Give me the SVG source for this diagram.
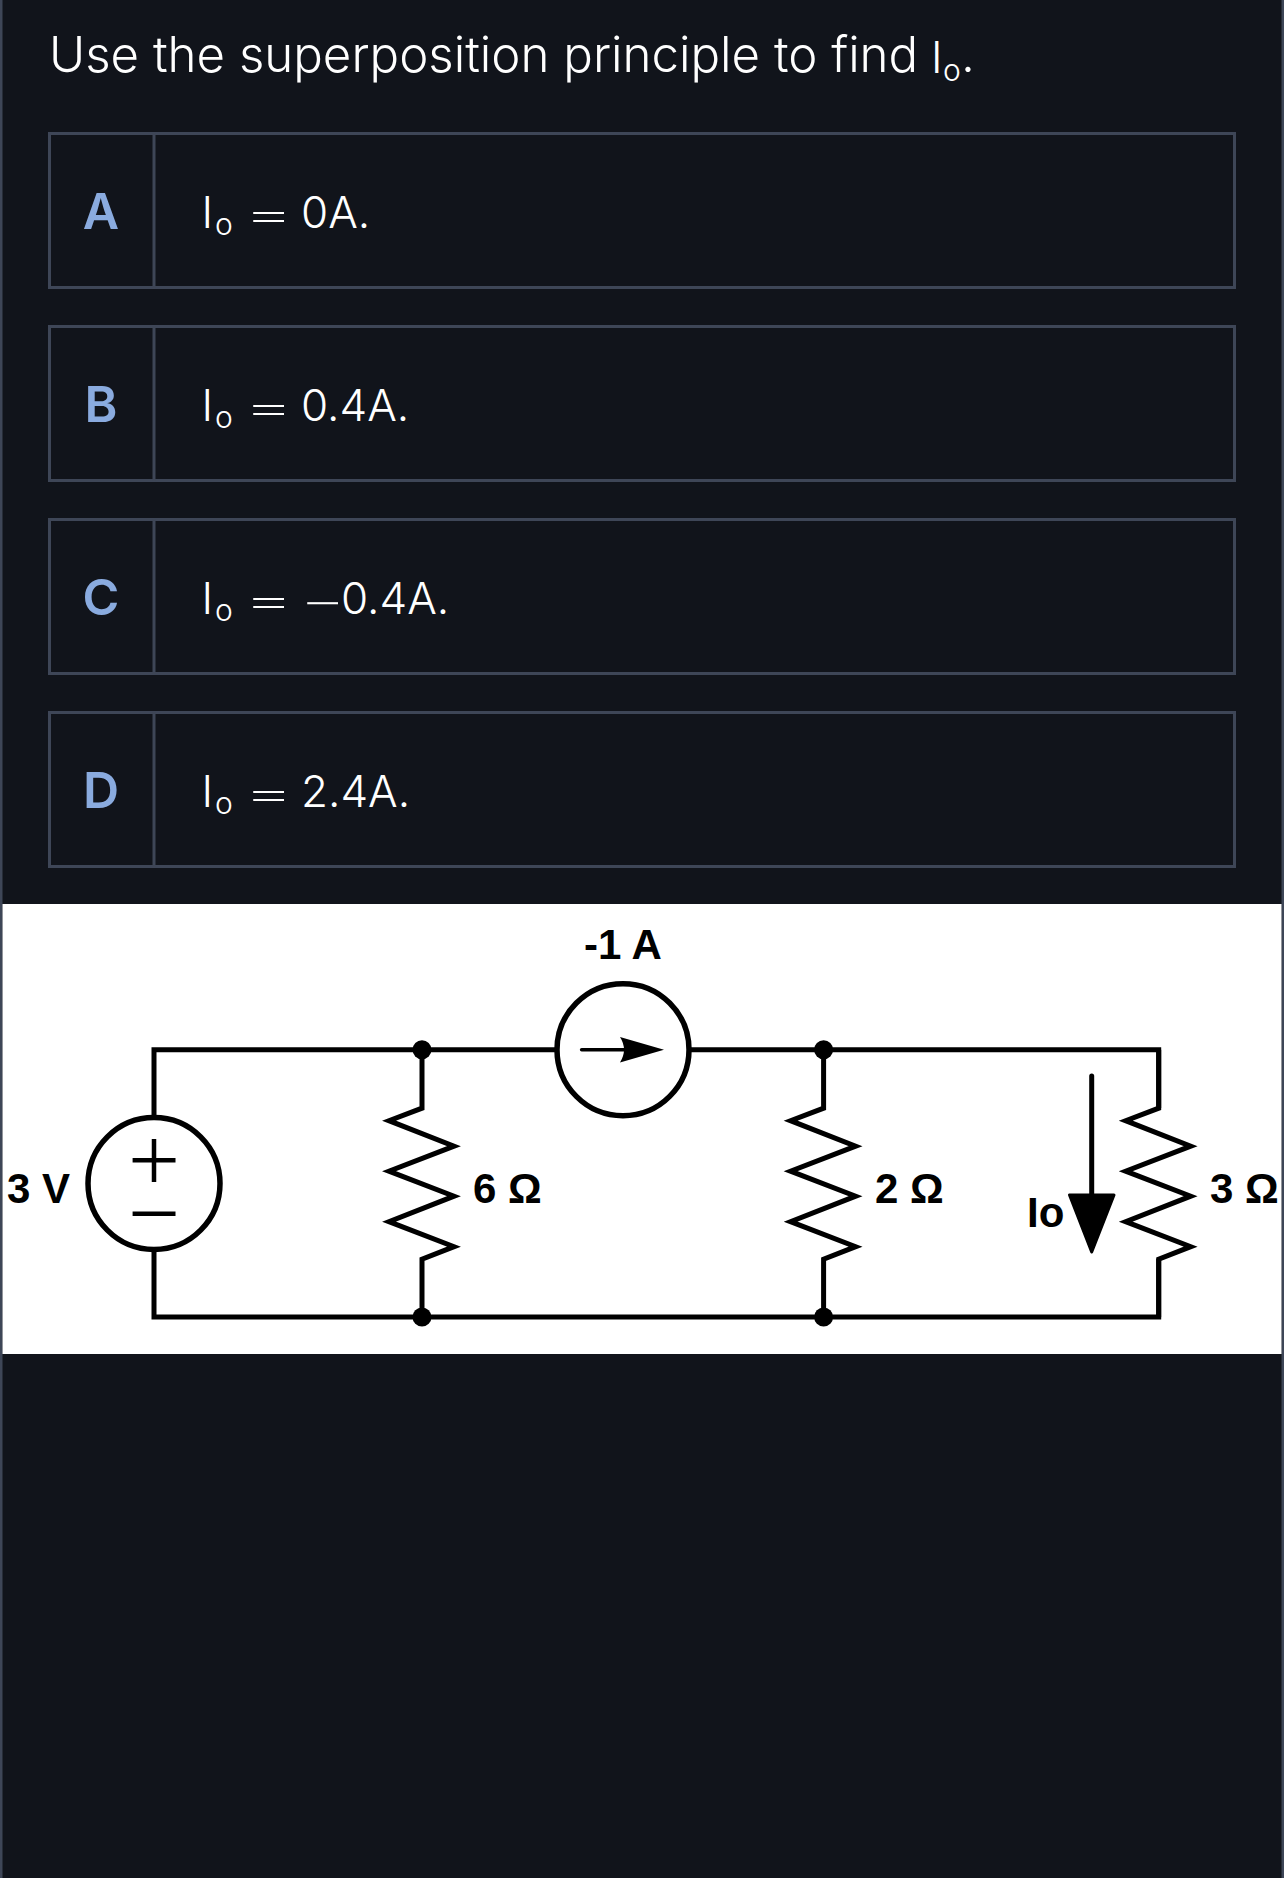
<svg xmlns="http://www.w3.org/2000/svg" width="1284" height="1878" viewBox="0 0 1284 1878">
<style>
.title{font:350 49.2px Inter,"Noto Sans",sans-serif;fill:#fff}
.letter{font:600 50px Inter,"Noto Sans",sans-serif;fill:#8aabdf;text-anchor:middle}
.box{fill:none;stroke:#3e4657;stroke-width:3}
.m{font:300 44px Inter,"Noto Sans",sans-serif;fill:#fff}
.sub{font-size:30px}
.eq{font:400 66px "Liberation Serif",serif;fill:#fff}
.w{fill:none;stroke:#000;stroke-width:5}
.lbl{font:700 42px "Liberation Sans",Arial,sans-serif;fill:#000}
</style>
<defs>
<polyline id="res" class="w" points="0,0 0,58.5 -33,71 32,96.5 -33,121.5 32,146.5 -33,172 32,197 0,209.5 0,267.5"/>
</defs>
<rect width="1284" height="1878" fill="#11141b"/>
<rect x="0" width="2.5" height="1878" fill="#3e4657"/>
<rect x="1281.5" width="2.5" height="1878" fill="#3e4657"/>
<text class="title" x="49" y="71.5">Use the superposition principle to find <tspan x="931" y="73.3" font-size="44" font-weight="300">I</tspan><tspan x="943" y="81" font-size="30" font-weight="300">o</tspan><tspan x="961" y="71.5">.</tspan></text>
<g id="option-a"><rect class="box" x="49.5" y="133.5" width="1185" height="154"/><path class="box" d="M154 133.5V287.5"/><text class="letter" x="101" y="229">A</text><text class="m" x="201.500" y="228">I<tspan class="sub" x="215" y="235">o</tspan></text><text class="eq" transform="translate(250,231) scale(1,.62)">=</text><text class="m" x="301" y="228">0A.</text></g>
<g id="option-b"><rect class="box" x="49.5" y="326.5" width="1185" height="154"/><path class="box" d="M154 326.5V480.5"/><text class="letter" x="101" y="422">B</text><text class="m" x="201.500" y="421">I<tspan class="sub" x="215" y="428">o</tspan></text><text class="eq" transform="translate(250,424) scale(1,.62)">=</text><text class="m" x="301" y="421">0.4A.</text></g>
<g id="option-c"><rect class="box" x="49.5" y="519.5" width="1185" height="154"/><path class="box" d="M154 519.5V673.5"/><text class="letter" x="101" y="615">C</text><text class="m" x="201.500" y="614">I<tspan class="sub" x="215" y="621">o</tspan></text><text class="eq" transform="translate(250,617) scale(1,.62)">=</text><text class="eq" transform="translate(304,617) scale(1,.62)">−</text><text class="m" x="341" y="614">0.4A.</text></g>
<g id="option-d"><rect class="box" x="49.5" y="712.5" width="1185" height="154"/><path class="box" d="M154 712.5V866.5"/><text class="letter" x="101" y="808">D</text><text class="m" x="201.500" y="807">I<tspan class="sub" x="215" y="814">o</tspan></text><text class="eq" transform="translate(250,810) scale(1,.62)">=</text><text class="m" x="301" y="807">2.4A.</text></g>
<rect x="2.5" y="904" width="1279" height="450" fill="#fff"/>
<g id="connectors">
<path class="w" d="M154 1116V1049.7H557M689 1049.7H1158.7V1108M154 1251V1317H1158.7V1259"/>
</g>
<g id="r6"><use href="#res" x="422" y="1049.7"/><text class="lbl" x="473" y="1203">6 Ω</text></g>
<g id="r2"><use href="#res" x="823.6" y="1049.7"/><text class="lbl" x="875" y="1203">2 Ω</text></g>
<g id="r3"><use href="#res" x="1158.7" y="1049.7"/><text class="lbl" x="1210" y="1203">3 Ω</text></g>
<g id="junctions" fill="#000"><circle cx="422" cy="1049.7" r="9.5"/><circle cx="823.6" cy="1049.7" r="9.5"/><circle cx="422" cy="1317" r="9.5"/><circle cx="823.6" cy="1317" r="9.5"/></g>
<g id="vsource"><circle class="w" cx="154" cy="1183.5" r="66" style="stroke-width:5.5"/><path d="M132.6 1160.3H175.5M154 1139V1182M132.6 1213.7H175.5" class="w" style="stroke-width:4.5"/><text class="lbl" x="7" y="1203">3 V</text></g>
<g id="isource"><circle class="w" cx="623" cy="1049.7" r="66" style="stroke-width:5.5"/><path d="M581.6 1049.7H632" class="w" style="stroke-width:3.5;stroke-linecap:round"/><path d="M664 1049.7L620 1037Q628 1049.7 620 1062.4Z" fill="#000"/><text class="lbl" x="584" y="959">-1 A</text></g>
<g id="io"><path d="M1091.7 1076V1200" class="w" stroke-linecap="round"/><path d="M1069.5 1195H1114L1091.7 1252Z" fill="#000" stroke="#000" stroke-width="3" stroke-linejoin="round"/><text class="lbl" x="1027" y="1227">Io</text></g>
</svg>
